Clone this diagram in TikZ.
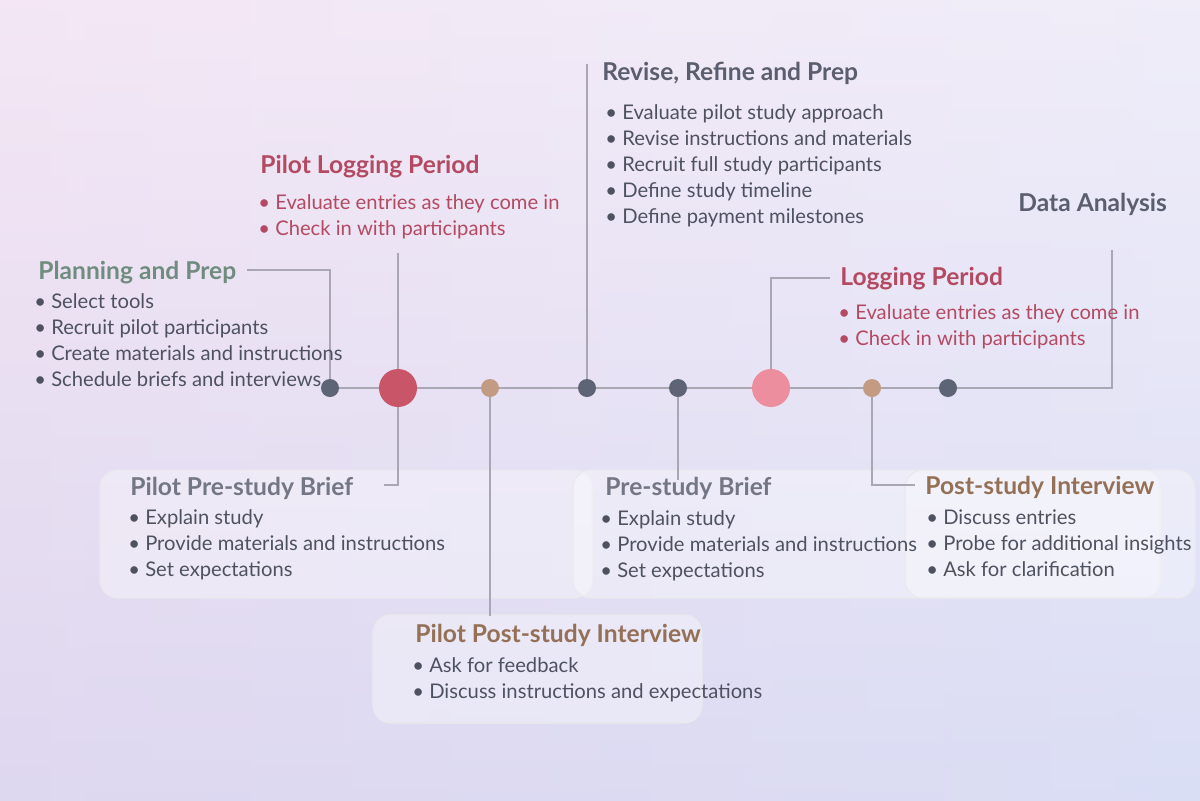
\documentclass[tikz,border=0pt]{standalone}
\usepackage{fontspec}
\setmainfont{Lato}
\usetikzlibrary{calc}
\definecolor{linegray}{HTML}{A9A7B3}
\definecolor{dotblue}{HTML}{5C6475}
\definecolor{pilotred}{HTML}{C95668}
\definecolor{logpink}{HTML}{EC8E9E}
\definecolor{dottan}{HTML}{C39A82}
\definecolor{titlegreen}{HTML}{6F8C7E}
\definecolor{titlered}{HTML}{B34A62}
\definecolor{titlegray}{HTML}{5A5E6E}
\definecolor{titlebrown}{HTML}{947056}
\definecolor{bodygray}{HTML}{4E5260}
\definecolor{bgpink}{HTML}{EBD3EC}
\definecolor{bglilac}{HTML}{E4DFF5}
\definecolor{bgblue}{HTML}{CFDDF5}
\tikzset{
	tline/.style={draw=linegray, line width=1pt},
	smalldot/.style={circle, inner sep=0pt, minimum size=9pt},
	bigdot/.style={circle, inner sep=0pt, minimum size=19pt},
	ttl/.style={anchor=base west, inner sep=0pt, font=\fontsize{12.3}{14}\selectfont\bfseries},
	blist/.style={anchor=north west, inner sep=0pt, align=left, text=bodygray,
		font=\fontsize{10.1}{13}\selectfont},
	panel/.style={draw=white!75!linegray, fill=white, fill opacity=0.35, rounded corners=9pt, line width=0.6pt}
}
\begin{document}
\begin{tikzpicture}[x=0.5pt,y=-0.5pt]
	
	%background
	\useasboundingbox (0,0) rectangle (1200,800);
	\shade[left color=bgpink, right color=bglilac] (0,0) rectangle (1200,800);
	\shade[top color=white, bottom color=bgblue, opacity=0.45] (0,0) rectangle (1200,800);
	
	%panels
	\draw[panel] (100,470) rectangle (592,598);
	\draw[panel] (573,470) rectangle (1160,598);
	\draw[panel] (905,470) rectangle (1195,598);
	\draw[panel] (373,615) rectangle (702,723);
	
	%timeline and connectors
	\coordinate (p1) at (330,388);	\coordinate (p2) at (398,388);
	\coordinate (p3) at (490,388);	\coordinate (p4) at (587,388);
	\coordinate (p5) at (678,388);	\coordinate (p6) at (771,388);
	\coordinate (p7) at (872,388);	\coordinate (p8) at (948,388);
	\coordinate (dend) at (1112,388);
	\coordinate (cplan) at (330,270);	\coordinate (eplan) at (247,270);
	\coordinate (eplog) at (398,253);
	\coordinate (cppre) at (398,485);	\coordinate (eppre) at (384,485);
	\coordinate (eppost) at (490,616);
	\coordinate (erev) at (587,64);
	\coordinate (epre) at (678,480);
	\coordinate (clog) at (771,278);	\coordinate (elog) at (830,278);
	\coordinate (cpost) at (872,485);	\coordinate (epost) at (915,485);
	\coordinate (edata) at (1112,250);
	
	\draw[tline] (p1)--(dend)--(edata);
	\draw[tline] (p1)--(cplan)--(eplan);
	\draw[tline] (p2)--(eplog);
	\draw[tline] (p2)--(cppre)--(eppre);
	\draw[tline] (p3)--(eppost);
	\draw[tline] (p4)--(erev);
	\draw[tline] (p5)--(epre);
	\draw[tline] (p6)--(clog)--(elog);
	\draw[tline] (p7)--(cpost)--(epost);
	
	%dots on the timeline
	\node[smalldot, fill=dotblue] (d1) at (p1) {};
	\node[bigdot, fill=pilotred] (d2) at (p2) {};
	\node[smalldot, fill=dottan] (d3) at (p3) {};
	\node[smalldot, fill=dotblue] (d4) at (p4) {};
	\node[smalldot, fill=dotblue] (d5) at (p5) {};
	\node[bigdot, fill=logpink] (d6) at (p6) {};
	\node[smalldot, fill=dottan] (d7) at (p7) {};
	\node[smalldot, fill=dotblue] (d8) at (p8) {};
	
	%upper captions
	\node[ttl, text=titlegreen] (tplan) at (38,279) {Planning and Prep};
	\node[blist] (lplan) at (34,293) {• Select tools\\• Recruit pilot participants\\• Create materials and instructions\\• Schedule briefs and interviews};
	\node[ttl, text=titlered] (tplog) at (260,173) {Pilot Logging Period};
	\node[blist, text=titlered] (lplog) at (258,194) {• Evaluate entries as they come in\\• Check in with participants};
	\node[ttl, text=titlegray] (trev) at (602,80) {Revise, Refine and Prep};
	\node[blist] (lrev) at (605,104) {• Evaluate pilot study approach\\• Revise instructions and materials\\• Recruit full study participants\\• Define study timeline\\• Define payment milestones};
	\node[ttl, text=titlegray] (tdata) at (1018,211) {Data Analysis};
	\node[ttl, text=titlered] (tlog) at (840,285) {Logging Period};
	\node[blist, text=titlered] (llog) at (838,304) {• Evaluate entries as they come in\\• Check in with participants};
	
	%lower captions
	\node[ttl, text=titlegray!85] (tppre) at (130,495) {Pilot Pre-study Brief};
	\node[blist] (lppre) at (128,509) {• Explain study\\• Provide materials and instructions\\• Set expectations};
	\node[ttl, text=titlegray!85] (tpre) at (605,495) {Pre-study Brief};
	\node[blist] (lpre) at (600,510) {• Explain study\\• Provide materials and instructions\\• Set expectations};
	\node[ttl, text=titlebrown] (tpost) at (925,494) {Post-study Interview};
	\node[blist] (lpost) at (926,509) {• Discuss entries\\• Probe for additional insights\\• Ask for clarification};
	\node[ttl, text=titlebrown] (tppost) at (415,642) {Pilot Post-study Interview};
	\node[blist] (lppost) at (412,657) {• Ask for feedback\\• Discuss instructions and expectations};
	
\end{tikzpicture}
\end{document}
